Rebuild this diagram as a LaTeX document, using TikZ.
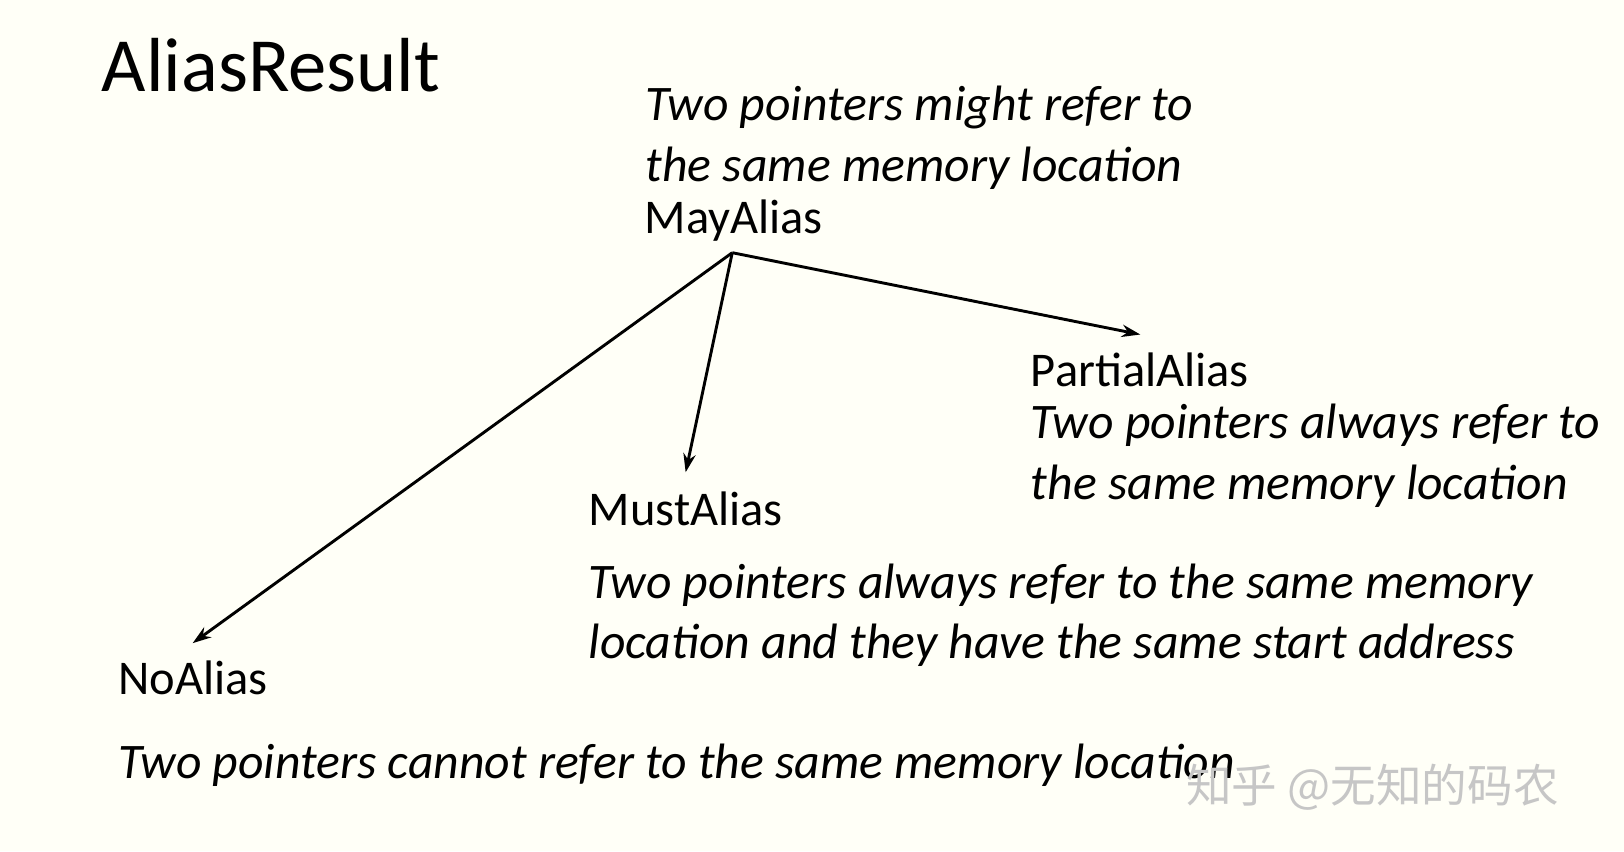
\documentclass[tikz,border=0pt]{standalone}
\usepackage{fontspec}
\setmainfont{Carlito}
\newfontfamily\cjk{Noto Sans CJK SC}
\usetikzlibrary{arrows.meta}
\begin{document}
\begin{tikzpicture}[x=0.5pt,y=-0.5pt,
  lbl/.style={anchor=base west,inner sep=0pt,font=\fontsize{23.4}{29}\selectfont},
  desc/.style={anchor=base west,inner sep=0pt,align=left,font=\fontsize{24}{29.3}\selectfont\itshape},
  arr/.style={line width=1.4pt,-{Stealth[length=9pt,width=6pt]}}]
\fill[white!97!yellow] (0,0) rectangle (1568,822);
\useasboundingbox (0,0) rectangle (1568,822);
\node[anchor=base west,inner sep=0pt,font=\fontsize{37}{44}\selectfont] (title) at (98,88) {AliasResult};
\node[desc] (dmay) at (623,175) {Two pointers might refer to\\the same memory location};
\node[lbl] (may) at (622,225) {MayAlias};
\node[lbl] (partial) at (995,373) {PartialAlias};
\node[desc] (dpartial) at (995,482) {Two pointers always refer to\\the same memory location};
\node[lbl] (must) at (568,507) {MustAlias};
\node[desc] (dmust) at (568,636) {Two pointers always refer to the same memory\\location and they have the same start address};
\node[lbl] (no) at (114,671) {NoAlias};
\node[desc] (dno) at (114,752) {Two pointers cannot refer to the same memory location};
\coordinate (src) at (707,244);
\coordinate (tp) at (1101,323);
\coordinate (tm) at (662,456);
\coordinate (tn) at (186,621);
\draw[arr] (src) -- (tp);
\draw[arr] (src) -- (tm);
\draw[arr] (src) -- (tn);
\node[anchor=base west,inner sep=0pt,text=gray!45,font=\fontsize{22}{26}\selectfont\cjk] (wm) at (1145,775) {知乎 @无知的码农};
\end{tikzpicture}
\end{document}
